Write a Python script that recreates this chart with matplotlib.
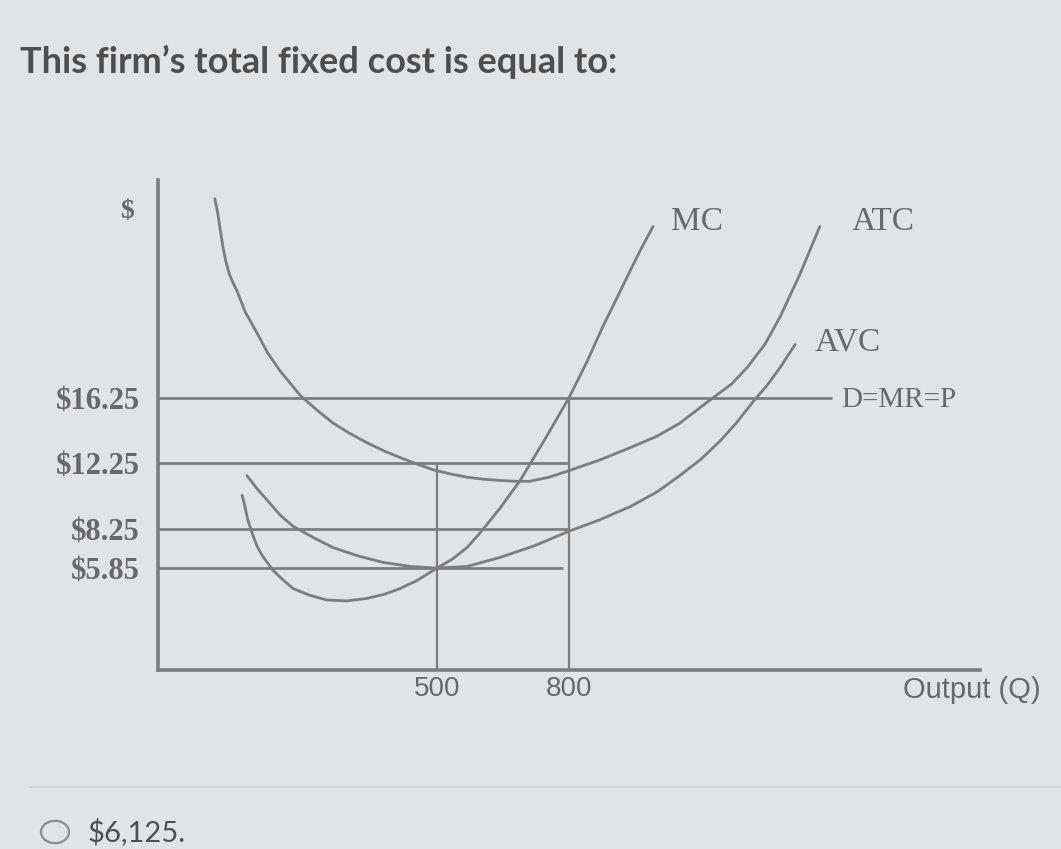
import matplotlib.pyplot as plt
from matplotlib.patches import Circle
from matplotlib.lines import Line2D

# -------------------------------------------------------------------
# Chart values (Q = output, v = $ per unit)
# -------------------------------------------------------------------
atc_q = [-5, -1, 3, 8, 14, 20, 28, 36, 45, 64, 91, 115, 143, 189, 227, 264, 300,
         341, 380, 416, 455, 491, 530, 568, 605, 643, 680, 711, 755, 800, 870, 939,
         1000, 1052, 1120, 1170, 1205, 1245, 1280, 1325, 1370]
atc_v = [28.4, 27.9, 27.3, 26.4, 25.4, 24.6, 23.8, 23.3, 22.8, 21.5, 20.2, 19.0,
         17.9, 16.4, 15.5, 14.7, 14.1, 13.5, 13.0, 12.6, 12.2, 11.85, 11.6, 11.4,
         11.28, 11.2, 11.15, 11.15, 11.4, 11.8, 12.45, 13.2, 13.9, 14.7, 16.1, 17.1,
         18.1, 19.5, 21.2, 23.8, 26.7]

avc_q = [68, 91, 114, 143, 173, 220, 264, 320, 377, 440, 500, 568, 643, 720, 800,
         870, 939, 1000, 1052, 1100, 1143, 1180, 1218, 1250, 1280, 1314]
avc_v = [11.5, 10.7, 10.0, 9.1, 8.4, 7.7, 7.1, 6.6, 6.2, 5.95, 5.85, 5.95, 6.5,
         7.2, 8.1, 8.8, 9.6, 10.5, 11.5, 12.5, 13.6, 14.7, 16.0, 17.0, 18.1, 19.5]

mc_q = [57, 62, 66, 70, 75, 83, 91, 102, 114, 128, 143, 173, 210, 250, 295, 341,
        380, 416, 455, 500, 535, 568, 598, 643, 689, 745, 800, 840, 877, 910, 939,
        965, 991]
mc_v = [10.3, 9.8, 9.3, 8.8, 8.4, 7.75, 7.2, 6.65, 6.2, 5.7, 5.3, 4.6, 4.2, 3.9,
        3.85, 4.0, 4.25, 4.6, 5.1, 5.85, 6.4, 7.1, 8.0, 9.5, 11.2, 13.7, 16.25,
        18.4, 20.6, 22.4, 24.0, 25.4, 26.7]

price_levels = [16.25, 12.25, 8.25, 5.85]
price_labels = ["$16.25", "$12.25", "$8.25", "$5.85"]
price_ends = [1398, 800, 800, 786]

q_marks = [500, 800]
q_tops = [12.25, 16.25]
q_labels = ["500", "800"]

# -------------------------------------------------------------------
# Style
# -------------------------------------------------------------------
BG = "#e0e4e7"
LINE = "#7b7d7f"
TXT = "#66686a"
DARK = "#4c4e50"
W, H = 1061, 849


def fx(x):
    return x / W


def fy(y):
    return 1 - y / H


fig = plt.figure(figsize=(W / 100, H / 100), dpi=100)
fig.patch.set_facecolor(BG)

ax = fig.add_axes([fx(158), fy(670), (980 - 158) / W, (670 - 180) / H])
ax.set_facecolor("none")
ax.set_xlim(-134, 1734)
ax.set_ylim(-0.37, 29.54)
for side in ["top", "right"]:
    ax.spines[side].set_visible(False)
for side in ["left", "bottom"]:
    ax.spines[side].set_color(LINE)
    ax.spines[side].set_linewidth(2.6)

x0, y0 = ax.get_xlim()[0], ax.get_ylim()[0]

# guide lines
for lvl, end in zip(price_levels, price_ends):
    ax.plot([x0, end], [lvl, lvl], color=LINE, lw=2.0, solid_capstyle="butt")
for q, top in zip(q_marks, q_tops):
    ax.plot([q, q], [y0, top], color=LINE, lw=1.6, solid_capstyle="butt")

# cost curves
for qs, vs in [(atc_q, atc_v), (avc_q, avc_v), (mc_q, mc_v)]:
    ax.plot(qs, vs, color=LINE, lw=2.0, solid_capstyle="round", solid_joinstyle="round")

serif = ["Liberation Serif", "DejaVu Serif"]
narrow = ["Liberation Sans Narrow", "Liberation Sans", "DejaVu Sans"]

ax.set_yticks(price_levels, labels=price_labels)
ax.set_xticks(q_marks, labels=q_labels)
ax.tick_params(axis="y", length=0, pad=13, labelsize=22, labelcolor=TXT)
ax.tick_params(axis="x", length=0, pad=4, labelsize=20, labelcolor=TXT)
for lab in ax.get_yticklabels():
    lab.set_family(serif)
    lab.set_weight("bold")
for lab in ax.get_xticklabels():
    lab.set_family(narrow)

ax.text(1091, 27.0, "MC", family=serif, fontsize=24, color=TXT, ha="center", va="center")
ax.text(1514, 27.0, "ATC", family=serif, fontsize=24, color=TXT, ha="center", va="center")
ax.text(1434, 19.65, "AVC", family=serif, fontsize=24, color=TXT, ha="center", va="center")
ax.text(1418, 16.1, "D=MR=P", family=serif, fontsize=21, color=TXT, ha="left", va="center")

fig.text(fx(127), fy(212), "$", family=serif, fontsize=20, weight="bold", color=TXT,
         ha="center", va="center")
fig.text(fx(972), fy(690), "Output (Q)", family=narrow, fontsize=21, color=TXT,
         ha="center", va="center")

# question text
fig.text(fx(20), fy(62), "This firm\u2019s total fixed cost is equal to:", family=["Lato", "DejaVu Sans"],
         fontsize=26, weight="bold", color=DARK, ha="left", va="center")

fig.add_artist(Line2D([fx(30), 1], [fy(787), fy(787)], color="#cdd1d4", lw=1.2))
fig.add_artist(Circle((fx(55), fy(832)), 14 / W, transform=fig.transFigure,
                      facecolor="none", edgecolor="#8a8c8e", lw=1.6))
fig.text(fx(88), fy(832), "$6,125.", family=["Lato", "DejaVu Sans"], fontsize=21,
         color=DARK, ha="left", va="center")

fig.savefig("out.png", dpi=100, facecolor=BG)
